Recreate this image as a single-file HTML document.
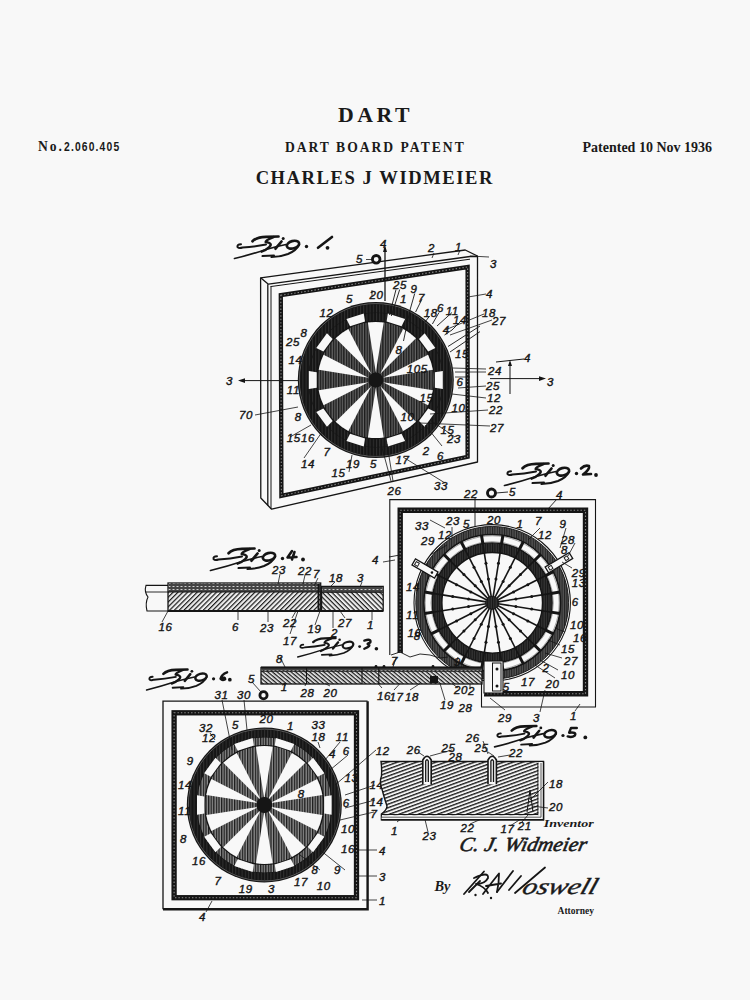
<!DOCTYPE html>
<html><head><meta charset="utf-8"><style>
html,body{margin:0;padding:0;background:#f8f8f8;overflow:hidden;}
svg{display:block;}
</style></head><body>
<svg width="750" height="1000" viewBox="0 0 750 1000">
<rect width="750" height="1000" fill="#f8f8f8"/>
<defs>
<pattern id="hatchV" width="2.6" height="10" patternUnits="userSpaceOnUse">
<rect width="2.6" height="10" fill="#1c1c1c"/><rect x="1.5" width="0.8" height="10" fill="#8a8a8a"/>
</pattern>
<pattern id="hatchR" width="2.4" height="2.4" patternUnits="userSpaceOnUse">
<rect width="2.4" height="2.4" fill="#222"/><rect x="1.3" width="0.7" height="2.4" fill="#808080"/>
</pattern>
<pattern id="hatchD" width="3" height="3" patternUnits="userSpaceOnUse" patternTransform="rotate(-30)">
<rect width="3" height="3" fill="#f0f0f0"/><rect y="0" width="3" height="1.1" fill="#222"/>
</pattern>
<pattern id="hatchD2" width="3.2" height="3.2" patternUnits="userSpaceOnUse" patternTransform="rotate(-20)">
<rect width="3.2" height="3.2" fill="#eeeeee"/><rect y="0" width="3.2" height="1.0" fill="#222"/>
</pattern>
<pattern id="hatchF" width="3.3" height="3.3" patternUnits="userSpaceOnUse" patternTransform="rotate(-20)">
<rect width="3.3" height="3.3" fill="#f4f4f4"/><rect y="0" width="3.3" height="1.35" fill="#1e1e1e"/>
</pattern>
<pattern id="hatchR2" width="2.4" height="2.4" patternUnits="userSpaceOnUse">
<rect width="2.4" height="2.4" fill="#151515"/><rect x="1.4" width="0.5" height="2.4" fill="#666"/>
</pattern>
<pattern id="hatch45a" width="3.4" height="3.4" patternUnits="userSpaceOnUse" patternTransform="rotate(-45)">
<rect width="3.4" height="3.4" fill="#eeeeee"/><rect y="0" width="3.4" height="1.2" fill="#1a1a1a"/>
</pattern>
<pattern id="hatch45b" width="3.4" height="3.4" patternUnits="userSpaceOnUse" patternTransform="rotate(45)">
<rect width="3.4" height="3.4" fill="#eeeeee"/><rect y="0" width="3.4" height="1.2" fill="#1a1a1a"/>
</pattern>
<pattern id="hatchV6" width="2.6" height="10" patternUnits="userSpaceOnUse">
<rect width="2.6" height="10" fill="#1c1c1c"/><rect x="1.4" width="1.0" height="10" fill="#b0b0b0"/>
</pattern>
<pattern id="bandH" width="3.2" height="20" patternUnits="userSpaceOnUse">
<rect width="3.2" height="20" fill="#151515"/><rect x="2" y="0" width="0.5" height="20" fill="#4a4a4a"/>
</pattern>
<pattern id="hatch3" width="3" height="3" patternUnits="userSpaceOnUse" patternTransform="rotate(40)">
<rect width="3" height="3" fill="#eeeeee"/><rect y="0" width="3" height="1.3" fill="#1a1a1a"/>
</pattern>
<pattern id="stip" width="4" height="3" patternUnits="userSpaceOnUse">
<rect width="4" height="3" fill="#444"/><rect x="0.5" y="1" width="2" height="1" fill="#d0d0d0"/>
</pattern>
</defs>
<g font-family="Liberation Serif" fill="#1a1a1a" font-weight="bold">
<text x="375.6" y="122.2" font-size="21.8" text-anchor="middle" letter-spacing="3.5">DART</text>
<text x="375.3" y="151.8" font-size="13.6" text-anchor="middle" letter-spacing="2">DART BOARD PATENT</text>
<text x="374.8" y="184.2" font-size="18.6" text-anchor="middle" letter-spacing="1.55">CHARLES J WIDMEIER</text>
<text x="38" y="151" font-size="13.6" textLength="24" lengthAdjust="spacing">No.</text>
<g transform="translate(64,151) scale(0.82,1)"><text x="0" y="0" font-family="Liberation Sans" font-size="12.6" letter-spacing="1.4">2.060.405</text></g>
<text x="582.5" y="151.5" font-size="14">Patented 10 Nov 1936</text>
</g>
<g fill="none" stroke="#151515" stroke-width="1.3" stroke-linejoin="round">
<path d="M260.6,277.8 L465.2,250 L477.5,256 L477.5,462 L271.6,509.2 L260.8,498 Z" fill="#f8f8f8"/>
<path d="M260.6,277.8 L268.4,284.2 L470,256.5 L477.5,256.5" />
<path d="M270.4,286.6 L470,259.2" stroke-width="1"/>
<path d="M267.8,284.2 L267.8,505.5" />
<path d="M271,286.6 L271,509" stroke-width="1"/>
</g>
<path d="M280.8,295.2 L467.6,267 L467.6,456.8 L281.4,495.8 Z" fill="none" stroke="#151515" stroke-width="4.3" stroke-linejoin="miter"/>
<path d="M280.8,295.2 L467.6,267 L467.6,456.8 L281.4,495.8 Z" fill="none" stroke="#8a8a8a" stroke-width="1.1" stroke-dasharray="1.4 2"/>
<circle cx="375.80" cy="380.00" r="78.00" fill="#151515"/>
<circle cx="375.80" cy="380.00" r="63.10" fill="none" stroke="url(#bandH)" stroke-width="9.00"/>
<circle cx="375.80" cy="380.00" r="58.60" fill="url(#hatchV)" stroke="#151515" stroke-width="1.2"/>
<circle cx="375.80" cy="380.00" r="67.60" fill="none" stroke="#151515" stroke-width="1.2"/>
<circle cx="375.80" cy="380.00" r="76.40" fill="none" stroke="#a0a0a0" stroke-width="0.5"/>
<circle cx="375.80" cy="380.00" r="71.60" fill="none" stroke="url(#bandH)" stroke-width="8.00"/>
<path d="M375.80,372.33 L367.91,322.54 A58.00,58.00 0 0 1 383.69,322.54 Z" fill="#f8f8f8"/>
<path d="M387.85,313.48 L405.15,319.10 L401.51,326.23 L386.60,321.39Z" fill="#f8f8f8"/>
<path d="M380.31,373.79 L403.20,328.88 A58.00,58.00 0 0 1 415.95,338.15 Z" fill="#f8f8f8"/>
<path d="M424.65,333.27 L435.34,347.98 L428.21,351.61 L418.99,338.93Z" fill="#f8f8f8"/>
<path d="M383.10,377.63 L428.01,354.74 A58.00,58.00 0 0 1 432.89,369.74 Z" fill="#f8f8f8"/>
<path d="M442.79,370.91 L442.79,389.09 L434.88,387.84 L434.88,372.16Z" fill="#f8f8f8"/>
<path d="M383.10,382.37 L432.89,390.26 A58.00,58.00 0 0 1 428.01,405.26 Z" fill="#f8f8f8"/>
<path d="M435.34,412.02 L424.65,426.73 L418.99,421.07 L428.21,408.39Z" fill="#f8f8f8"/>
<path d="M380.31,386.21 L415.95,421.85 A58.00,58.00 0 0 1 403.20,431.12 Z" fill="#f8f8f8"/>
<path d="M405.15,440.90 L387.85,446.52 L386.60,438.61 L401.51,433.77Z" fill="#f8f8f8"/>
<path d="M375.80,387.67 L383.69,437.46 A58.00,58.00 0 0 1 367.91,437.46 Z" fill="#f8f8f8"/>
<path d="M363.75,446.52 L346.45,440.90 L350.09,433.77 L365.00,438.61Z" fill="#f8f8f8"/>
<path d="M371.29,386.21 L348.40,431.12 A58.00,58.00 0 0 1 335.65,421.85 Z" fill="#f8f8f8"/>
<path d="M326.95,426.73 L316.26,412.02 L323.39,408.39 L332.61,421.07Z" fill="#f8f8f8"/>
<path d="M368.50,382.37 L323.59,405.26 A58.00,58.00 0 0 1 318.71,390.26 Z" fill="#f8f8f8"/>
<path d="M308.81,389.09 L308.81,370.91 L316.72,372.16 L316.72,387.84Z" fill="#f8f8f8"/>
<path d="M368.50,377.63 L318.71,369.74 A58.00,58.00 0 0 1 323.59,354.74 Z" fill="#f8f8f8"/>
<path d="M316.26,347.98 L326.95,333.27 L332.61,338.93 L323.39,351.61Z" fill="#f8f8f8"/>
<path d="M371.29,373.79 L335.65,338.15 A58.00,58.00 0 0 1 348.40,328.88 Z" fill="#f8f8f8"/>
<path d="M346.45,319.10 L363.75,313.48 L365.00,321.39 L350.09,326.23Z" fill="#f8f8f8"/>
<circle cx="375.80" cy="380.00" r="7.50" fill="#151515"/>
<path d="M240.00,380.60 L298.00,380.60" fill="none" stroke="#151515" stroke-width="1.0" />
<path d="M238,380.6 L245,378.3 L245,382.9Z" fill="#151515"/>
<path d="M490.00,378.60 L542.00,378.60" fill="none" stroke="#151515" stroke-width="1.0" />
<path d="M546,378.6 L539,376.3 L539,380.9Z" fill="#151515"/>
<path d="M510.00,363.00 L510.00,394.00" fill="none" stroke="#151515" stroke-width="1.0" />
<path d="M510,360 L508,366 L512,366Z" fill="#151515"/>
<path d="M496.00,362.00 L524.00,359.00" fill="none" stroke="#151515" stroke-width="1.0" />
<path d="M385.00,248.00 L385.00,301.00" fill="none" stroke="#151515" stroke-width="1.3" />
<path d="M385,245 L383,252 L387,252Z" fill="#151515"/>
<circle cx="376.2" cy="259.3" r="3.8" fill="#f8f8f8" stroke="#151515" stroke-width="2.8"/>
<path d="M470.00,256.00 L489.00,257.00" fill="none" stroke="#151515" stroke-width="0.8" />
<path d="M468.00,297.00 L486.00,294.00" fill="none" stroke="#151515" stroke-width="0.8" />
<path d="M445.00,330.00 L484.00,314.00" fill="none" stroke="#151515" stroke-width="0.8" />
<path d="M450.00,335.00 L492.00,320.00" fill="none" stroke="#151515" stroke-width="0.8" />
<path d="M452.00,368.00 L486.00,369.00" fill="none" stroke="#151515" stroke-width="0.8" />
<path d="M455.00,372.00 L486.00,372.00" fill="none" stroke="#151515" stroke-width="0.8" />
<path d="M455.00,377.00 L470.00,377.00" fill="none" stroke="#151515" stroke-width="0.8" />
<path d="M458.00,388.00 L486.00,386.00" fill="none" stroke="#151515" stroke-width="0.8" />
<path d="M452.00,394.00 L486.00,398.00" fill="none" stroke="#151515" stroke-width="0.8" />
<path d="M430.00,414.00 L488.00,410.00" fill="none" stroke="#151515" stroke-width="0.8" />
<path d="M420.00,423.00 L490.00,426.00" fill="none" stroke="#151515" stroke-width="0.8" />
<path d="M430.00,420.00 L455.00,437.00" fill="none" stroke="#151515" stroke-width="0.8" />
<path d="M425.00,425.00 L442.00,446.00" fill="none" stroke="#151515" stroke-width="0.8" />
<path d="M434.00,253.00 L432.00,258.00" fill="none" stroke="#151515" stroke-width="0.8" />
<path d="M460.00,250.00 L458.00,255.00" fill="none" stroke="#151515" stroke-width="0.8" />
<path d="M366.00,259.50 L372.00,259.50" fill="none" stroke="#151515" stroke-width="0.8" />
<path d="M298.00,407.00 L255.00,415.00" fill="none" stroke="#151515" stroke-width="0.8" />
<path d="M311.00,425.00 L290.00,437.00" fill="none" stroke="#151515" stroke-width="0.8" />
<path d="M322.00,432.00 L304.00,458.00" fill="none" stroke="#151515" stroke-width="0.8" />
<path d="M352.00,455.00 L349.00,472.00" fill="none" stroke="#151515" stroke-width="0.8" />
<path d="M391.00,481.00 L381.00,444.00" fill="none" stroke="#151515" stroke-width="0.8" />
<path d="M393.00,481.00 L387.00,444.00" fill="none" stroke="#151515" stroke-width="0.8" />
<path d="M403.00,457.00 L445.00,483.00" fill="none" stroke="#151515" stroke-width="0.8" />
<path d="M372.00,290.00 L372.00,296.00" fill="none" stroke="#151515" stroke-width="0.8" />
<path d="M396.00,289.50 L389.50,315.00" fill="none" stroke="#151515" stroke-width="0.9" />
<path d="M399.70,289.50 L391.30,316.00" fill="none" stroke="#151515" stroke-width="0.9" />
<path d="M414.70,293.50 L410.00,310.00 L403.50,341.00" fill="none" stroke="#151515" stroke-width="0.9" />
<path d="M422.00,299.00 L415.60,312.00" fill="none" stroke="#151515" stroke-width="0.9" />
<path d="M429.60,316.00 L425.00,322.00" fill="none" stroke="#151515" stroke-width="0.9" />
<path d="M439.00,312.50 L432.40,324.00" fill="none" stroke="#151515" stroke-width="0.9" />
<path d="M452.00,312.50 L437.00,326.00" fill="none" stroke="#151515" stroke-width="0.9" />
<path d="M461.00,321.00 L452.00,330.00 L444.50,335.00" fill="none" stroke="#151515" stroke-width="0.9" />
<path d="M480.00,326.00 L448.00,346.50" fill="none" stroke="#151515" stroke-width="0.9" />
<path d="M480.00,331.60 L450.00,352.00" fill="none" stroke="#151515" stroke-width="0.9" />
<g font-family="Liberation Sans" font-style="italic" fill="#151515">
<text x="380" y="247.6" font-size="11.5" text-anchor="start" letter-spacing="0.6" stroke="#151515" stroke-width="0.4">4</text>
<text x="356" y="263" font-size="11.5" text-anchor="start" letter-spacing="0.6" stroke="#151515" stroke-width="0.4">5</text>
<text x="428" y="252" font-size="11.5" text-anchor="start" letter-spacing="0.6" stroke="#151515" stroke-width="0.4">2</text>
<text x="455" y="250.5" font-size="11.5" text-anchor="start" letter-spacing="0.6" stroke="#151515" stroke-width="0.4">1</text>
<text x="490" y="268" font-size="11.5" text-anchor="start" letter-spacing="0.6" stroke="#151515" stroke-width="0.4">3</text>
<text x="486" y="298" font-size="11.5" text-anchor="start" letter-spacing="0.6" stroke="#151515" stroke-width="0.4">4</text>
<text x="369.5" y="299" font-size="11.5" text-anchor="start" letter-spacing="0.6" stroke="#151515" stroke-width="0.4">20</text>
<text x="346" y="303" font-size="11.5" text-anchor="start" letter-spacing="0.6" stroke="#151515" stroke-width="0.4">5</text>
<text x="319.6" y="316.5" font-size="11.5" text-anchor="start" letter-spacing="0.6" stroke="#151515" stroke-width="0.4">12</text>
<text x="393" y="288.7" font-size="11.5" text-anchor="start" letter-spacing="0.6" stroke="#151515" stroke-width="0.4">25</text>
<text x="410.5" y="293" font-size="11.5" text-anchor="start" letter-spacing="0.6" stroke="#151515" stroke-width="0.4">9</text>
<text x="400" y="303" font-size="11.5" text-anchor="start" letter-spacing="0.6" stroke="#151515" stroke-width="0.4">1</text>
<text x="418" y="302" font-size="11.5" text-anchor="start" letter-spacing="0.6" stroke="#151515" stroke-width="0.4">7</text>
<text x="423.7" y="316.5" font-size="11.5" text-anchor="start" letter-spacing="0.6" stroke="#151515" stroke-width="0.4">18</text>
<text x="437" y="312" font-size="11.5" text-anchor="start" letter-spacing="0.6" stroke="#151515" stroke-width="0.4">6</text>
<text x="445.7" y="315" font-size="11.5" text-anchor="start" letter-spacing="0.6" stroke="#151515" stroke-width="0.4">11</text>
<text x="453" y="324" font-size="11.5" text-anchor="start" letter-spacing="0.6" stroke="#151515" stroke-width="0.4">14</text>
<text x="442.8" y="334" font-size="11.5" text-anchor="start" letter-spacing="0.6" stroke="#151515" stroke-width="0.4">4</text>
<text x="286" y="346" font-size="11.5" text-anchor="start" letter-spacing="0.6" stroke="#151515" stroke-width="0.4">25</text>
<text x="300.5" y="337" font-size="11.5" text-anchor="start" letter-spacing="0.6" stroke="#151515" stroke-width="0.4">8</text>
<text x="288.4" y="363.6" font-size="11.5" text-anchor="start" letter-spacing="0.6" stroke="#151515" stroke-width="0.4">14</text>
<text x="286.8" y="394" font-size="11.5" text-anchor="start" letter-spacing="0.6" stroke="#151515" stroke-width="0.4">11</text>
<text x="239" y="419" font-size="11.5" text-anchor="start" letter-spacing="0.6" stroke="#151515" stroke-width="0.4">70</text>
<text x="294.8" y="421" font-size="11.5" text-anchor="start" letter-spacing="0.6" stroke="#151515" stroke-width="0.4">8</text>
<text x="286.8" y="442" font-size="11.5" text-anchor="start" letter-spacing="0.6" stroke="#151515" stroke-width="0.4">15</text>
<text x="301" y="442" font-size="11.5" text-anchor="start" letter-spacing="0.6" stroke="#151515" stroke-width="0.4">16</text>
<text x="323.6" y="456.4" font-size="11.5" text-anchor="start" letter-spacing="0.6" stroke="#151515" stroke-width="0.4">7</text>
<text x="301" y="467.6" font-size="11.5" text-anchor="start" letter-spacing="0.6" stroke="#151515" stroke-width="0.4">14</text>
<text x="346" y="467.6" font-size="11.5" text-anchor="start" letter-spacing="0.6" stroke="#151515" stroke-width="0.4">19</text>
<text x="331.6" y="477" font-size="11.5" text-anchor="start" letter-spacing="0.6" stroke="#151515" stroke-width="0.4">15</text>
<text x="370" y="467.6" font-size="11.5" text-anchor="start" letter-spacing="0.6" stroke="#151515" stroke-width="0.4">5</text>
<text x="395.6" y="464.4" font-size="11.5" text-anchor="start" letter-spacing="0.6" stroke="#151515" stroke-width="0.4">17</text>
<text x="422.8" y="454.8" font-size="11.5" text-anchor="start" letter-spacing="0.6" stroke="#151515" stroke-width="0.4">2</text>
<text x="437" y="459.6" font-size="11.5" text-anchor="start" letter-spacing="0.6" stroke="#151515" stroke-width="0.4">6</text>
<text x="440.4" y="434" font-size="11.5" text-anchor="start" letter-spacing="0.6" stroke="#151515" stroke-width="0.4">15</text>
<text x="447" y="443" font-size="11.5" text-anchor="start" letter-spacing="0.6" stroke="#151515" stroke-width="0.4">23</text>
<text x="451.6" y="411.6" font-size="11.5" text-anchor="start" letter-spacing="0.6" stroke="#151515" stroke-width="0.4">10</text>
<text x="455" y="358" font-size="11.5" text-anchor="start" letter-spacing="0.6" stroke="#151515" stroke-width="0.4">15</text>
<text x="456.4" y="386" font-size="11.5" text-anchor="start" letter-spacing="0.6" stroke="#151515" stroke-width="0.4">6</text>
<text x="387.6" y="494.8" font-size="11.5" text-anchor="start" letter-spacing="0.6" stroke="#151515" stroke-width="0.4">26</text>
<text x="434" y="490" font-size="11.5" text-anchor="start" letter-spacing="0.6" stroke="#151515" stroke-width="0.4">33</text>
<text x="400.4" y="421" font-size="11.5" text-anchor="start" letter-spacing="0.6" stroke="#151515" stroke-width="0.4">10</text>
<text x="419.6" y="402" font-size="11.5" text-anchor="start" letter-spacing="0.6" stroke="#151515" stroke-width="0.4">15</text>
<text x="406.8" y="373" font-size="11.5" text-anchor="start" letter-spacing="0.6" stroke="#151515" stroke-width="0.4">105</text>
<text x="395.6" y="354" font-size="11.5" text-anchor="start" letter-spacing="0.6" stroke="#151515" stroke-width="0.4">8</text>
<text x="482" y="317" font-size="11.5" text-anchor="start" letter-spacing="0.6" stroke="#151515" stroke-width="0.4">18</text>
<text x="492" y="325" font-size="11.5" text-anchor="start" letter-spacing="0.6" stroke="#151515" stroke-width="0.4">27</text>
<text x="488" y="375" font-size="11.5" text-anchor="start" letter-spacing="0.6" stroke="#151515" stroke-width="0.4">24</text>
<text x="486" y="390" font-size="11.5" text-anchor="start" letter-spacing="0.6" stroke="#151515" stroke-width="0.4">25</text>
<text x="487" y="402" font-size="11.5" text-anchor="start" letter-spacing="0.6" stroke="#151515" stroke-width="0.4">12</text>
<text x="489" y="414" font-size="11.5" text-anchor="start" letter-spacing="0.6" stroke="#151515" stroke-width="0.4">22</text>
<text x="490" y="432" font-size="11.5" text-anchor="start" letter-spacing="0.6" stroke="#151515" stroke-width="0.4">27</text>
<text x="524" y="362" font-size="11.5" text-anchor="start" letter-spacing="0.6" stroke="#151515" stroke-width="0.4">4</text>
<text x="547" y="386" font-size="11.5" text-anchor="start" letter-spacing="0.6" stroke="#151515" stroke-width="0.4">3</text>
<text x="226" y="385" font-size="11.5" text-anchor="start" letter-spacing="0.6" stroke="#151515" stroke-width="0.4">3</text>
</g>
<g fill="none" stroke="#151515" stroke-width="1.1">
<path d="M389.8,655 L389.8,499.6 L595.5,499.6 L595.5,707 L481.5,707 L481.5,667"/>
</g>
<path d="M400.2,653 L400.2,510.3 L585.5,510.3 L585.5,693.8 L484,693.8" fill="none" stroke="#151515" stroke-width="5.4"/>
<path d="M400.2,653 L400.2,510.3 L585.5,510.3 L585.5,693.8 L484,693.8" fill="none" stroke="#8a8a8a" stroke-width="1.1" stroke-dasharray="1.4 2"/>
<circle cx="492.20" cy="602.80" r="78.20" fill="#f8f8f8" stroke="#151515" stroke-width="1.1"/>
<circle cx="492.20" cy="602.80" r="72.35" fill="none" stroke="url(#hatchR)" stroke-width="8.1"/>
<circle cx="492.20" cy="602.80" r="76.40" fill="none" stroke="#151515" stroke-width="0.9"/>
<circle cx="492.20" cy="602.80" r="68.30" fill="none" stroke="#151515" stroke-width="1.6"/>
<circle cx="492.20" cy="602.80" r="55.10" fill="none" stroke="url(#hatchR2)" stroke-width="9.6"/>
<circle cx="492.20" cy="602.80" r="59.90" fill="none" stroke="#151515" stroke-width="1.4"/>
<circle cx="492.20" cy="602.80" r="50.30" fill="none" stroke="#151515" stroke-width="1.4"/>
<circle cx="492.20" cy="602.80" r="67" fill="none" stroke="#555" stroke-width="0.5"/>
<circle cx="492.20" cy="602.80" r="61.2" fill="none" stroke="#555" stroke-width="0.5"/>
<path d="M493.14,596.87 L501.59,543.54" stroke="#151515" stroke-width="1.6"/>
<path d="M501.51,544.03 L502.92,535.14" stroke="#151515" stroke-width="3"/>
<circle cx="495.95" cy="579.10" r="1.5" fill="#151515"/>
<circle cx="498.46" cy="563.29" r="1.5" fill="#151515"/>
<path d="M494.92,597.45 L519.44,549.34" stroke="#151515" stroke-width="1.6"/>
<path d="M519.21,549.79 L523.30,541.77" stroke="#151515" stroke-width="3"/>
<circle cx="503.10" cy="581.42" r="1.5" fill="#151515"/>
<circle cx="510.36" cy="567.16" r="1.5" fill="#151515"/>
<path d="M496.44,598.56 L534.63,560.37" stroke="#151515" stroke-width="1.6"/>
<path d="M534.27,560.73 L540.64,554.36" stroke="#151515" stroke-width="3"/>
<circle cx="509.17" cy="585.83" r="1.5" fill="#151515"/>
<circle cx="520.48" cy="574.52" r="1.5" fill="#151515"/>
<path d="M497.55,600.08 L545.66,575.56" stroke="#151515" stroke-width="1.6"/>
<path d="M545.21,575.79 L553.23,571.70" stroke="#151515" stroke-width="3"/>
<circle cx="513.58" cy="591.90" r="1.5" fill="#151515"/>
<circle cx="527.84" cy="584.64" r="1.5" fill="#151515"/>
<path d="M498.13,601.86 L551.46,593.41" stroke="#151515" stroke-width="1.6"/>
<path d="M550.97,593.49 L559.86,592.08" stroke="#151515" stroke-width="3"/>
<circle cx="515.90" cy="599.05" r="1.5" fill="#151515"/>
<circle cx="531.71" cy="596.54" r="1.5" fill="#151515"/>
<path d="M498.13,603.74 L551.46,612.19" stroke="#151515" stroke-width="1.6"/>
<path d="M550.97,612.11 L559.86,613.52" stroke="#151515" stroke-width="3"/>
<circle cx="515.90" cy="606.55" r="1.5" fill="#151515"/>
<circle cx="531.71" cy="609.06" r="1.5" fill="#151515"/>
<path d="M497.55,605.52 L545.66,630.04" stroke="#151515" stroke-width="1.6"/>
<path d="M545.21,629.81 L553.23,633.90" stroke="#151515" stroke-width="3"/>
<circle cx="513.58" cy="613.70" r="1.5" fill="#151515"/>
<circle cx="527.84" cy="620.96" r="1.5" fill="#151515"/>
<path d="M496.44,607.04 L534.63,645.23" stroke="#151515" stroke-width="1.6"/>
<path d="M534.27,644.87 L540.64,651.24" stroke="#151515" stroke-width="3"/>
<circle cx="509.17" cy="619.77" r="1.5" fill="#151515"/>
<circle cx="520.48" cy="631.08" r="1.5" fill="#151515"/>
<path d="M494.92,608.15 L519.44,656.26" stroke="#151515" stroke-width="1.6"/>
<path d="M519.21,655.81 L523.30,663.83" stroke="#151515" stroke-width="3"/>
<circle cx="503.10" cy="624.18" r="1.5" fill="#151515"/>
<circle cx="510.36" cy="638.44" r="1.5" fill="#151515"/>
<path d="M493.14,608.73 L501.59,662.06" stroke="#151515" stroke-width="1.6"/>
<path d="M501.51,661.57 L502.92,670.46" stroke="#151515" stroke-width="3"/>
<circle cx="495.95" cy="626.50" r="1.5" fill="#151515"/>
<circle cx="498.46" cy="642.31" r="1.5" fill="#151515"/>
<path d="M491.26,608.73 L482.81,662.06" stroke="#151515" stroke-width="1.6"/>
<path d="M482.89,661.57 L481.48,670.46" stroke="#151515" stroke-width="3"/>
<circle cx="488.45" cy="626.50" r="1.5" fill="#151515"/>
<circle cx="485.94" cy="642.31" r="1.5" fill="#151515"/>
<path d="M489.48,608.15 L464.96,656.26" stroke="#151515" stroke-width="1.6"/>
<path d="M465.19,655.81 L461.10,663.83" stroke="#151515" stroke-width="3"/>
<circle cx="481.30" cy="624.18" r="1.5" fill="#151515"/>
<circle cx="474.04" cy="638.44" r="1.5" fill="#151515"/>
<path d="M487.96,607.04 L449.77,645.23" stroke="#151515" stroke-width="1.6"/>
<path d="M450.13,644.87 L443.76,651.24" stroke="#151515" stroke-width="3"/>
<circle cx="475.23" cy="619.77" r="1.5" fill="#151515"/>
<circle cx="463.92" cy="631.08" r="1.5" fill="#151515"/>
<path d="M486.85,605.52 L438.74,630.04" stroke="#151515" stroke-width="1.6"/>
<path d="M439.19,629.81 L431.17,633.90" stroke="#151515" stroke-width="3"/>
<circle cx="470.82" cy="613.70" r="1.5" fill="#151515"/>
<circle cx="456.56" cy="620.96" r="1.5" fill="#151515"/>
<path d="M486.27,603.74 L432.94,612.19" stroke="#151515" stroke-width="1.6"/>
<path d="M433.43,612.11 L424.54,613.52" stroke="#151515" stroke-width="3"/>
<circle cx="468.50" cy="606.55" r="1.5" fill="#151515"/>
<circle cx="452.69" cy="609.06" r="1.5" fill="#151515"/>
<path d="M486.27,601.86 L432.94,593.41" stroke="#151515" stroke-width="1.6"/>
<path d="M433.43,593.49 L424.54,592.08" stroke="#151515" stroke-width="3"/>
<circle cx="468.50" cy="599.05" r="1.5" fill="#151515"/>
<circle cx="452.69" cy="596.54" r="1.5" fill="#151515"/>
<path d="M486.85,600.08 L438.74,575.56" stroke="#151515" stroke-width="1.6"/>
<path d="M439.19,575.79 L431.17,571.70" stroke="#151515" stroke-width="3"/>
<circle cx="470.82" cy="591.90" r="1.5" fill="#151515"/>
<circle cx="456.56" cy="584.64" r="1.5" fill="#151515"/>
<path d="M487.96,598.56 L449.77,560.37" stroke="#151515" stroke-width="1.6"/>
<path d="M450.13,560.73 L443.76,554.36" stroke="#151515" stroke-width="3"/>
<circle cx="475.23" cy="585.83" r="1.5" fill="#151515"/>
<circle cx="463.92" cy="574.52" r="1.5" fill="#151515"/>
<path d="M489.48,597.45 L464.96,549.34" stroke="#151515" stroke-width="1.6"/>
<path d="M465.19,549.79 L461.10,541.77" stroke="#151515" stroke-width="3"/>
<circle cx="481.30" cy="581.42" r="1.5" fill="#151515"/>
<circle cx="474.04" cy="567.16" r="1.5" fill="#151515"/>
<path d="M491.26,596.87 L482.81,543.54" stroke="#151515" stroke-width="1.6"/>
<path d="M482.89,544.03 L481.48,535.14" stroke="#151515" stroke-width="3"/>
<circle cx="488.45" cy="579.10" r="1.5" fill="#151515"/>
<circle cx="485.94" cy="563.29" r="1.5" fill="#151515"/>
<circle cx="492.20" cy="602.80" r="6.5" fill="url(#hatchR2)" stroke="#151515" stroke-width="1"/>
<path d="M391.00,655.00 L400.00,652.00 L410.00,657.00 L420.00,654.00 L430.00,655.00 L440.00,658.00 L448.00,657.00" fill="none" stroke="#151515" stroke-width="0.9" />
<path d="M163,909.2 L163,701.2 L367.6,701.2" fill="none" stroke="#151515" stroke-width="1.3"/>
<path d="M367.6,701.2 L367.6,909.2 L163,909.2" fill="none" stroke="#151515" stroke-width="2.4"/>
<rect x="174.1" y="712.8" width="182.4" height="184.9" fill="none" stroke="#151515" stroke-width="5.3"/>
<rect x="174.1" y="712.8" width="182.4" height="184.9" fill="none" stroke="#8a8a8a" stroke-width="1.1" stroke-dasharray="1.4 2"/>
<circle cx="264.30" cy="805.00" r="77.50" fill="#151515"/>
<circle cx="264.30" cy="805.00" r="63.75" fill="none" stroke="url(#hatchV6)" stroke-width="8.50"/>
<circle cx="264.30" cy="805.00" r="59.50" fill="url(#hatchV6)" stroke="#151515" stroke-width="1.2"/>
<circle cx="264.30" cy="805.00" r="68.00" fill="none" stroke="#151515" stroke-width="1.2"/>
<circle cx="264.30" cy="805.00" r="75.90" fill="none" stroke="#a0a0a0" stroke-width="0.5"/>
<circle cx="264.30" cy="805.00" r="71.55" fill="none" stroke="url(#bandH)" stroke-width="7.10"/>
<path d="M264.30,799.25 L255.98,746.69 A58.90,58.90 0 0 1 272.62,746.69 Z" fill="#f8f8f8"/>
<path d="M275.92,738.00 L294.28,743.96 L290.87,750.65 L274.75,745.41Z" fill="#f8f8f8"/>
<path d="M267.68,800.35 L291.84,752.93 A58.90,58.90 0 0 1 305.31,762.72 Z" fill="#f8f8f8"/>
<path d="M313.09,757.63 L324.43,773.24 L317.74,776.65 L307.78,762.93Z" fill="#f8f8f8"/>
<path d="M269.77,803.22 L317.18,779.06 A58.90,58.90 0 0 1 322.33,794.90 Z" fill="#f8f8f8"/>
<path d="M331.61,795.35 L331.61,814.65 L324.20,813.48 L324.20,796.52Z" fill="#f8f8f8"/>
<path d="M269.77,806.78 L322.33,815.10 A58.90,58.90 0 0 1 317.18,830.94 Z" fill="#f8f8f8"/>
<path d="M324.43,836.76 L313.09,852.37 L307.78,847.07 L317.74,833.35Z" fill="#f8f8f8"/>
<path d="M267.68,809.65 L305.31,847.28 A58.90,58.90 0 0 1 291.84,857.07 Z" fill="#f8f8f8"/>
<path d="M294.28,866.04 L275.92,872.00 L274.75,864.59 L290.87,859.35Z" fill="#f8f8f8"/>
<path d="M264.30,810.75 L272.62,863.31 A58.90,58.90 0 0 1 255.98,863.31 Z" fill="#f8f8f8"/>
<path d="M252.68,872.00 L234.32,866.04 L237.73,859.35 L253.85,864.59Z" fill="#f8f8f8"/>
<path d="M260.92,809.65 L236.76,857.07 A58.90,58.90 0 0 1 223.29,847.28 Z" fill="#f8f8f8"/>
<path d="M215.51,852.37 L204.17,836.76 L210.86,833.35 L220.82,847.07Z" fill="#f8f8f8"/>
<path d="M258.83,806.78 L211.42,830.94 A58.90,58.90 0 0 1 206.27,815.10 Z" fill="#f8f8f8"/>
<path d="M196.99,814.65 L196.99,795.35 L204.40,796.52 L204.40,813.48Z" fill="#f8f8f8"/>
<path d="M258.83,803.22 L206.27,794.90 A58.90,58.90 0 0 1 211.42,779.06 Z" fill="#f8f8f8"/>
<path d="M204.17,773.24 L215.51,757.63 L220.82,762.93 L210.86,776.65Z" fill="#f8f8f8"/>
<path d="M260.92,800.35 L223.29,762.72 A58.90,58.90 0 0 1 236.76,752.93 Z" fill="#f8f8f8"/>
<path d="M234.32,743.96 L252.68,738.00 L253.85,745.41 L237.73,750.65Z" fill="#f8f8f8"/>
<circle cx="264.30" cy="805.00" r="8.00" fill="#151515"/>
<g transform="translate(236,236.5) scale(1.0)" fill="none" stroke="#151515" stroke-linecap="round" stroke-linejoin="round"><path d="M5,7.8 Q0.8,8 1.6,10.6 Q3,12.2 6.5,11 Q18,10.3 30,8" stroke-width="2"/><path d="M16.5,4.8 Q20.5,0.6 30,0.4 L42.5,0" stroke-width="2.7"/><path d="M37.5,0.6 Q29,4 29.6,5.6 Q37.5,6.6 33.2,10.6 Q30,13.6 25.5,15.2" stroke-width="2.4"/><path d="M-1.5,22 Q15,18 30,13 Q40,10 50,8" stroke-width="1.7"/><path d="M26.5,19.6 L38,19" stroke-width="2"/><path d="M39.5,12.2 L45.5,5" stroke-width="2.7"/><circle cx="47.2" cy="2" r="1.5" fill="#151515" stroke="none"/><ellipse cx="57" cy="8.2" rx="6.3" ry="3.7" transform="rotate(-15 57 8.2)" stroke-width="2.6"/><path d="M63.2,8 Q60.5,14 52,17.5 Q45,20.2 35.5,20.6" stroke-width="2"/><circle cx="70.5" cy="10" r="1.7" fill="#151515" stroke="none"/><path d="M82,11.3 L96,0.5" stroke-width="2.6"/><circle cx="91.5" cy="11.3" r="1.9" fill="#151515" stroke="none"/></g>
<g transform="translate(506,463.5) scale(1.0)" fill="none" stroke="#151515" stroke-linecap="round" stroke-linejoin="round"><path d="M5,7.8 Q0.8,8 1.6,10.6 Q3,12.2 6.5,11 Q18,10.3 30,8" stroke-width="2"/><path d="M16.5,4.8 Q20.5,0.6 30,0.4 L42.5,0" stroke-width="2.7"/><path d="M37.5,0.6 Q29,4 29.6,5.6 Q37.5,6.6 33.2,10.6 Q30,13.6 25.5,15.2" stroke-width="2.4"/><path d="M-1.5,22 Q15,18 30,13 Q40,10 50,8" stroke-width="1.7"/><path d="M26.5,19.6 L38,19" stroke-width="2"/><path d="M39.5,12.2 L45.5,5" stroke-width="2.7"/><circle cx="47.2" cy="2" r="1.5" fill="#151515" stroke="none"/><ellipse cx="57" cy="8.2" rx="6.3" ry="3.7" transform="rotate(-15 57 8.2)" stroke-width="2.6"/><path d="M63.2,8 Q60.5,14 52,17.5 Q45,20.2 35.5,20.6" stroke-width="2"/><circle cx="70.5" cy="10" r="1.7" fill="#151515" stroke="none"/><path d="M75,5 Q79,1 83,2.5 Q84,6 77,11 L85,10.5" stroke-width="2.6"/><circle cx="90" cy="11.5" r="1.9" fill="#151515" stroke="none"/></g>
<g transform="translate(212,548.5) scale(1.0)" fill="none" stroke="#151515" stroke-linecap="round" stroke-linejoin="round"><path d="M5,7.8 Q0.8,8 1.6,10.6 Q3,12.2 6.5,11 Q18,10.3 30,8" stroke-width="2"/><path d="M16.5,4.8 Q20.5,0.6 30,0.4 L42.5,0" stroke-width="2.7"/><path d="M37.5,0.6 Q29,4 29.6,5.6 Q37.5,6.6 33.2,10.6 Q30,13.6 25.5,15.2" stroke-width="2.4"/><path d="M-1.5,22 Q15,18 30,13 Q40,10 50,8" stroke-width="1.7"/><path d="M26.5,19.6 L38,19" stroke-width="2"/><path d="M39.5,12.2 L45.5,5" stroke-width="2.7"/><circle cx="47.2" cy="2" r="1.5" fill="#151515" stroke="none"/><ellipse cx="57" cy="8.2" rx="6.3" ry="3.7" transform="rotate(-15 57 8.2)" stroke-width="2.6"/><path d="M63.2,8 Q60.5,14 52,17.5 Q45,20.2 35.5,20.6" stroke-width="2"/><circle cx="70.5" cy="10" r="1.7" fill="#151515" stroke="none"/><path d="M80,2.5 L75.5,9 L84.5,8.5 M82.5,3.5 L80,11" stroke-width="2.5"/><circle cx="91" cy="11" r="1.9" fill="#151515" stroke="none"/></g>
<g transform="translate(299,638) scale(0.86)" fill="none" stroke="#151515" stroke-linecap="round" stroke-linejoin="round"><path d="M5,7.8 Q0.8,8 1.6,10.6 Q3,12.2 6.5,11 Q18,10.3 30,8" stroke-width="2"/><path d="M16.5,4.8 Q20.5,0.6 30,0.4 L42.5,0" stroke-width="2.7"/><path d="M37.5,0.6 Q29,4 29.6,5.6 Q37.5,6.6 33.2,10.6 Q30,13.6 25.5,15.2" stroke-width="2.4"/><path d="M-1.5,22 Q15,18 30,13 Q40,10 50,8" stroke-width="1.7"/><path d="M26.5,19.6 L38,19" stroke-width="2"/><path d="M39.5,12.2 L45.5,5" stroke-width="2.7"/><circle cx="47.2" cy="2" r="1.5" fill="#151515" stroke="none"/><ellipse cx="57" cy="8.2" rx="6.3" ry="3.7" transform="rotate(-15 57 8.2)" stroke-width="2.6"/><path d="M63.2,8 Q60.5,14 52,17.5 Q45,20.2 35.5,20.6" stroke-width="2"/><circle cx="70.5" cy="10" r="1.7" fill="#151515" stroke="none"/><path d="M76,3 Q84,0.5 83,5 Q79,7 80,7 Q85,9 76,12.5" stroke-width="2.8"/><circle cx="90" cy="12.5" r="2.1" fill="#151515" stroke="none"/></g>
<g transform="translate(496,726) scale(0.95)" fill="none" stroke="#151515" stroke-linecap="round" stroke-linejoin="round"><path d="M5,7.8 Q0.8,8 1.6,10.6 Q3,12.2 6.5,11 Q18,10.3 30,8" stroke-width="2"/><path d="M16.5,4.8 Q20.5,0.6 30,0.4 L42.5,0" stroke-width="2.7"/><path d="M37.5,0.6 Q29,4 29.6,5.6 Q37.5,6.6 33.2,10.6 Q30,13.6 25.5,15.2" stroke-width="2.4"/><path d="M-1.5,22 Q15,18 30,13 Q40,10 50,8" stroke-width="1.7"/><path d="M26.5,19.6 L38,19" stroke-width="2"/><path d="M39.5,12.2 L45.5,5" stroke-width="2.7"/><circle cx="47.2" cy="2" r="1.5" fill="#151515" stroke="none"/><ellipse cx="57" cy="8.2" rx="6.3" ry="3.7" transform="rotate(-15 57 8.2)" stroke-width="2.6"/><path d="M63.2,8 Q60.5,14 52,17.5 Q45,20.2 35.5,20.6" stroke-width="2"/><circle cx="70.5" cy="10" r="1.7" fill="#151515" stroke="none"/><path d="M85,2 L79,2 L77,7 Q85,6 83,10 Q80,12.5 75.5,11" stroke-width="2.6"/><circle cx="94" cy="12" r="2" fill="#151515" stroke="none"/></g>
<g transform="translate(148,669.5) scale(0.93)" fill="none" stroke="#151515" stroke-linecap="round" stroke-linejoin="round"><path d="M5,7.8 Q0.8,8 1.6,10.6 Q3,12.2 6.5,11 Q18,10.3 30,8" stroke-width="2"/><path d="M16.5,4.8 Q20.5,0.6 30,0.4 L42.5,0" stroke-width="2.7"/><path d="M37.5,0.6 Q29,4 29.6,5.6 Q37.5,6.6 33.2,10.6 Q30,13.6 25.5,15.2" stroke-width="2.4"/><path d="M-1.5,22 Q15,18 30,13 Q40,10 50,8" stroke-width="1.7"/><path d="M26.5,19.6 L38,19" stroke-width="2"/><path d="M39.5,12.2 L45.5,5" stroke-width="2.7"/><circle cx="47.2" cy="2" r="1.5" fill="#151515" stroke="none"/><ellipse cx="57" cy="8.2" rx="6.3" ry="3.7" transform="rotate(-15 57 8.2)" stroke-width="2.6"/><path d="M63.2,8 Q60.5,14 52,17.5 Q45,20.2 35.5,20.6" stroke-width="2"/><circle cx="70.5" cy="10" r="1.7" fill="#151515" stroke="none"/><path d="M85,3 Q79,5 78,10 Q80,12.5 83,10.5 Q83,8 79,9" stroke-width="2.6"/><circle cx="88" cy="11" r="2" fill="#151515" stroke="none"/></g>
<path d="M168,585.4 L146,585.4 Q144,592 148,597 Q145,603 147,611 L168,611" fill="#f8f8f8" stroke="#151515" stroke-width="1.1"/>
<path d="M146.00,592.00 L168.00,592.00" fill="none" stroke="#151515" stroke-width="0.9" />
<rect x="168" y="583" width="152.7" height="28" fill="url(#hatch45a)" stroke="#151515" stroke-width="1.3"/>
<rect x="168.6" y="583.6" width="151.5" height="8.4" fill="url(#stip)"/>
<path d="M168.00,592.00 L321.00,592.00" fill="none" stroke="#151515" stroke-width="1.0" />
<rect x="321.6" y="586.4" width="61.6" height="24.6" fill="url(#hatch45b)" stroke="#151515" stroke-width="1.3"/>
<rect x="322.2" y="587" width="60.4" height="5.3" fill="url(#stip)"/>
<path d="M321.60,592.30 L383.20,592.30" fill="none" stroke="#151515" stroke-width="1.0" />
<path d="M318.50,584.00 L318.50,611.00" fill="none" stroke="#151515" stroke-width="2.0" />
<path d="M168.00,611.00 L383.00,611.00" fill="none" stroke="#151515" stroke-width="1.8" />
<rect x="261" y="667.5" width="221" height="16.5" fill="url(#hatch3)" stroke="#151515" stroke-width="1.3"/>
<rect x="261.6" y="668" width="219.8" height="3.2" fill="url(#stip)"/>
<path d="M261.00,671.20 L482.00,671.20" fill="none" stroke="#151515" stroke-width="1.0" />
<path d="M261.00,667.50 L482.00,667.50" fill="none" stroke="#151515" stroke-width="1.8" />
<path d="M306.50,667.50 L306.50,684.00" fill="none" stroke="#151515" stroke-width="1.1" />
<path d="M362.00,667.50 L362.00,684.00" fill="none" stroke="#151515" stroke-width="1.1" />
<path d="M378.80,667.50 L378.80,684.00" fill="none" stroke="#151515" stroke-width="1.1" />
<path d="M430,676 L438,676 L438,683 L430,683Z" fill="#151515"/>
<circle cx="376" cy="666.5" r="1.4" fill="#151515"/><circle cx="384" cy="666.5" r="1.4" fill="#151515"/><circle cx="433" cy="666.5" r="1.4" fill="#151515"/>
<circle cx="491.5" cy="493" r="4" fill="#f8f8f8" stroke="#151515" stroke-width="2.9"/>
<path d="M496.00,493.00 L508.00,492.00" fill="none" stroke="#151515" stroke-width="0.9" />
<path d="M475.00,497.50 L475.00,527.00" fill="none" stroke="#151515" stroke-width="0.9" />
<path d="M548.00,509.00 L557.00,499.00" fill="none" stroke="#151515" stroke-width="0.9" />
<path d="M389.00,557.00 L400.00,555.00" fill="none" stroke="#151515" stroke-width="0.9" />
<g transform="rotate(30 425 568.5)"><rect x="412" y="565" width="26" height="7" fill="#f8f8f8" stroke="#151515" stroke-width="1.3"/><rect x="414" y="566.8" width="3.5" height="3.5" fill="none" stroke="#151515" stroke-width="0.9"/><circle cx="433" cy="568.5" r="1.3" fill="#151515"/></g>
<g transform="rotate(-31 558.5 563)"><rect x="545" y="559.5" width="28" height="7" fill="#f8f8f8" stroke="#151515" stroke-width="1.3"/><rect x="547.5" y="561.3" width="3.5" height="3.5" fill="none" stroke="#151515" stroke-width="0.9"/><rect x="566" y="561.3" width="3.5" height="3.5" fill="none" stroke="#151515" stroke-width="0.9"/></g>
<rect x="484" y="661" width="19" height="32" fill="#f8f8f8" stroke="#151515" stroke-width="1.1"/>
<rect x="492.5" y="663" width="8.5" height="28" fill="#f8f8f8" stroke="#151515" stroke-width="1.0"/>
<circle cx="497" cy="669" r="1.5" fill="#151515"/><circle cx="497" cy="686" r="1.5" fill="#151515"/>
<g font-family="Liberation Sans" font-style="italic" fill="#151515">
<text x="464" y="497.5" font-size="11.5" text-anchor="start" letter-spacing="0.6" stroke="#151515" stroke-width="0.4">22</text>
<text x="509" y="496" font-size="11.5" text-anchor="start" letter-spacing="0.6" stroke="#151515" stroke-width="0.4">5</text>
<text x="556" y="499" font-size="11.5" text-anchor="start" letter-spacing="0.6" stroke="#151515" stroke-width="0.4">4</text>
<text x="415" y="529.8" font-size="11.5" text-anchor="start" letter-spacing="0.6" stroke="#151515" stroke-width="0.4">33</text>
<text x="446" y="525" font-size="11.5" text-anchor="start" letter-spacing="0.6" stroke="#151515" stroke-width="0.4">23</text>
<text x="463" y="528" font-size="11.5" text-anchor="start" letter-spacing="0.6" stroke="#151515" stroke-width="0.4">5</text>
<text x="487" y="523.6" font-size="11.5" text-anchor="start" letter-spacing="0.6" stroke="#151515" stroke-width="0.4">20</text>
<text x="516.5" y="528" font-size="11.5" text-anchor="start" letter-spacing="0.6" stroke="#151515" stroke-width="0.4">1</text>
<text x="535" y="525" font-size="11.5" text-anchor="start" letter-spacing="0.6" stroke="#151515" stroke-width="0.4">7</text>
<text x="559.5" y="528" font-size="11.5" text-anchor="start" letter-spacing="0.6" stroke="#151515" stroke-width="0.4">9</text>
<text x="438" y="539" font-size="11.5" text-anchor="start" letter-spacing="0.6" stroke="#151515" stroke-width="0.4">12</text>
<text x="538" y="539" font-size="11.5" text-anchor="start" letter-spacing="0.6" stroke="#151515" stroke-width="0.4">12</text>
<text x="561" y="543.6" font-size="11.5" text-anchor="start" letter-spacing="0.6" stroke="#151515" stroke-width="0.4">28</text>
<text x="421" y="545" font-size="11.5" text-anchor="start" letter-spacing="0.6" stroke="#151515" stroke-width="0.4">29</text>
<text x="561" y="554" font-size="11.5" text-anchor="start" letter-spacing="0.6" stroke="#151515" stroke-width="0.4">8</text>
<text x="571.7" y="577" font-size="11.5" text-anchor="start" letter-spacing="0.6" stroke="#151515" stroke-width="0.4">29</text>
<text x="571.7" y="586.5" font-size="11.5" text-anchor="start" letter-spacing="0.6" stroke="#151515" stroke-width="0.4">13</text>
<text x="571.7" y="606" font-size="11.5" text-anchor="start" letter-spacing="0.6" stroke="#151515" stroke-width="0.4">6</text>
<text x="570" y="629" font-size="11.5" text-anchor="start" letter-spacing="0.6" stroke="#151515" stroke-width="0.4">10</text>
<text x="573" y="641.7" font-size="11.5" text-anchor="start" letter-spacing="0.6" stroke="#151515" stroke-width="0.4">16</text>
<text x="561" y="652.5" font-size="11.5" text-anchor="start" letter-spacing="0.6" stroke="#151515" stroke-width="0.4">15</text>
<text x="564" y="664.7" font-size="11.5" text-anchor="start" letter-spacing="0.6" stroke="#151515" stroke-width="0.4">27</text>
<text x="561" y="678.5" font-size="11.5" text-anchor="start" letter-spacing="0.6" stroke="#151515" stroke-width="0.4">10</text>
<text x="542.6" y="672.4" font-size="11.5" text-anchor="start" letter-spacing="0.6" stroke="#151515" stroke-width="0.4">2</text>
<text x="545.6" y="687.7" font-size="11.5" text-anchor="start" letter-spacing="0.6" stroke="#151515" stroke-width="0.4">20</text>
<text x="521" y="686" font-size="11.5" text-anchor="start" letter-spacing="0.6" stroke="#151515" stroke-width="0.4">17</text>
<text x="533" y="721.5" font-size="11.5" text-anchor="start" letter-spacing="0.6" stroke="#151515" stroke-width="0.4">3</text>
<text x="570" y="720" font-size="11.5" text-anchor="start" letter-spacing="0.6" stroke="#151515" stroke-width="0.4">1</text>
<text x="498" y="721.5" font-size="11.5" text-anchor="start" letter-spacing="0.6" stroke="#151515" stroke-width="0.4">29</text>
<text x="502.7" y="690.8" font-size="11.5" text-anchor="start" letter-spacing="0.6" stroke="#151515" stroke-width="0.4">5</text>
<text x="406" y="591" font-size="11.5" text-anchor="start" letter-spacing="0.6" stroke="#151515" stroke-width="0.4">14</text>
<text x="406" y="618.7" font-size="11.5" text-anchor="start" letter-spacing="0.6" stroke="#151515" stroke-width="0.4">11</text>
<text x="407.6" y="637" font-size="11.5" text-anchor="start" letter-spacing="0.6" stroke="#151515" stroke-width="0.4">16</text>
<text x="413.7" y="640" font-size="11.5" text-anchor="start" letter-spacing="0.6" stroke="#151515" stroke-width="0.4">8</text>
</g>
<path d="M430.00,520.00 L445.00,528.00" fill="none" stroke="#151515" stroke-width="0.8" />
<path d="M452.00,527.00 L452.00,538.00" fill="none" stroke="#151515" stroke-width="0.8" />
<path d="M540.00,528.00 L528.00,540.00" fill="none" stroke="#151515" stroke-width="0.8" />
<path d="M566.00,528.00 L560.00,548.00" fill="none" stroke="#151515" stroke-width="0.8" />
<path d="M575.00,543.00 L568.00,556.00" fill="none" stroke="#151515" stroke-width="0.8" />
<path d="M572.00,568.00 L562.00,562.00" fill="none" stroke="#151515" stroke-width="0.8" />
<path d="M565.00,632.00 L555.00,628.00" fill="none" stroke="#151515" stroke-width="0.8" />
<path d="M560.00,645.00 L548.00,640.00" fill="none" stroke="#151515" stroke-width="0.8" />
<path d="M562.00,658.00 L545.00,653.00" fill="none" stroke="#151515" stroke-width="0.8" />
<path d="M558.00,670.00 L540.00,660.00" fill="none" stroke="#151515" stroke-width="0.8" />
<path d="M540.00,712.00 L545.00,690.00" fill="none" stroke="#151515" stroke-width="0.8" />
<path d="M575.00,711.00 L580.00,704.00" fill="none" stroke="#151515" stroke-width="0.8" />
<path d="M505.00,710.00 L490.00,698.00" fill="none" stroke="#151515" stroke-width="0.8" />
<path d="M447.00,545.00 L430.00,555.00" fill="none" stroke="#151515" stroke-width="0.8" />
<path d="M555.00,678.00 L535.00,665.00" fill="none" stroke="#151515" stroke-width="0.8" />
<g font-family="Liberation Sans" font-style="italic" fill="#151515">
<text x="272" y="573.7" font-size="11.5" text-anchor="start" letter-spacing="0.6" stroke="#151515" stroke-width="0.4">23</text>
<text x="298" y="574.6" font-size="11.5" text-anchor="start" letter-spacing="0.6" stroke="#151515" stroke-width="0.4">22</text>
<text x="313" y="578" font-size="11.5" text-anchor="start" letter-spacing="0.6" stroke="#151515" stroke-width="0.4">7</text>
<text x="329" y="582" font-size="11.5" text-anchor="start" letter-spacing="0.6" stroke="#151515" stroke-width="0.4">18</text>
<text x="357" y="582" font-size="11.5" text-anchor="start" letter-spacing="0.6" stroke="#151515" stroke-width="0.4">3</text>
<text x="372" y="564" font-size="11.5" text-anchor="start" letter-spacing="0.6" stroke="#151515" stroke-width="0.4">4</text>
<text x="260" y="631.5" font-size="11.5" text-anchor="start" letter-spacing="0.6" stroke="#151515" stroke-width="0.4">23</text>
<text x="283" y="627" font-size="11.5" text-anchor="start" letter-spacing="0.6" stroke="#151515" stroke-width="0.4">22</text>
<text x="307.6" y="633.4" font-size="11.5" text-anchor="start" letter-spacing="0.6" stroke="#151515" stroke-width="0.4">19</text>
<text x="331" y="637" font-size="11.5" text-anchor="start" letter-spacing="0.6" stroke="#151515" stroke-width="0.4">2</text>
<text x="338" y="627" font-size="11.5" text-anchor="start" letter-spacing="0.6" stroke="#151515" stroke-width="0.4">27</text>
<text x="367" y="628.7" font-size="11.5" text-anchor="start" letter-spacing="0.6" stroke="#151515" stroke-width="0.4">1</text>
<text x="283" y="644.6" font-size="11.5" text-anchor="start" letter-spacing="0.6" stroke="#151515" stroke-width="0.4">17</text>
<text x="158.4" y="631" font-size="11.5" text-anchor="start" letter-spacing="0.6" stroke="#151515" stroke-width="0.4">16</text>
<text x="232" y="631" font-size="11.5" text-anchor="start" letter-spacing="0.6" stroke="#151515" stroke-width="0.4">6</text>
<text x="276" y="663" font-size="11.5" text-anchor="start" letter-spacing="0.6" stroke="#151515" stroke-width="0.4">8</text>
<text x="391" y="664.5" font-size="11.5" text-anchor="start" letter-spacing="0.6" stroke="#151515" stroke-width="0.4">7</text>
<text x="454" y="666" font-size="11.5" text-anchor="start" letter-spacing="0.6" stroke="#151515" stroke-width="0.4">9</text>
<text x="280.7" y="690.6" font-size="11.5" text-anchor="start" letter-spacing="0.6" stroke="#151515" stroke-width="0.4">1</text>
<text x="300.6" y="696.7" font-size="11.5" text-anchor="start" letter-spacing="0.6" stroke="#151515" stroke-width="0.4">28</text>
<text x="323.6" y="696.7" font-size="11.5" text-anchor="start" letter-spacing="0.6" stroke="#151515" stroke-width="0.4">20</text>
<text x="377" y="700" font-size="11.5" text-anchor="start" letter-spacing="0.6" stroke="#151515" stroke-width="0.4">16</text>
<text x="389.6" y="701" font-size="11.5" text-anchor="start" letter-spacing="0.6" stroke="#151515" stroke-width="0.4">17</text>
<text x="405" y="701" font-size="11.5" text-anchor="start" letter-spacing="0.6" stroke="#151515" stroke-width="0.4">18</text>
<text x="440" y="709" font-size="11.5" text-anchor="start" letter-spacing="0.6" stroke="#151515" stroke-width="0.4">19</text>
<text x="454" y="693.7" font-size="11.5" text-anchor="start" letter-spacing="0.6" stroke="#151515" stroke-width="0.4">20</text>
<text x="468" y="695" font-size="11.5" text-anchor="start" letter-spacing="0.6" stroke="#151515" stroke-width="0.4">2</text>
<text x="458.6" y="712" font-size="11.5" text-anchor="start" letter-spacing="0.6" stroke="#151515" stroke-width="0.4">28</text>
</g>
<path d="M280.00,574.00 L278.00,584.00" fill="none" stroke="#151515" stroke-width="0.8" />
<path d="M305.00,575.00 L303.00,584.00" fill="none" stroke="#151515" stroke-width="0.8" />
<path d="M318.00,578.00 L314.00,586.00" fill="none" stroke="#151515" stroke-width="0.8" />
<path d="M335.00,582.00 L330.00,587.00" fill="none" stroke="#151515" stroke-width="0.8" />
<path d="M362.00,582.00 L360.00,587.00" fill="none" stroke="#151515" stroke-width="0.8" />
<path d="M383.00,562.00 L395.00,560.00" fill="none" stroke="#151515" stroke-width="0.8" />
<path d="M268.00,622.00 L268.00,611.00" fill="none" stroke="#151515" stroke-width="0.8" />
<path d="M292.00,618.00 L296.00,611.00" fill="none" stroke="#151515" stroke-width="0.8" />
<path d="M315.00,625.00 L320.00,611.00" fill="none" stroke="#151515" stroke-width="0.8" />
<path d="M333.00,628.00 L333.00,611.00" fill="none" stroke="#151515" stroke-width="0.8" />
<path d="M345.00,618.00 L340.00,611.00" fill="none" stroke="#151515" stroke-width="0.8" />
<path d="M372.00,620.00 L372.00,611.00" fill="none" stroke="#151515" stroke-width="0.8" />
<path d="M290.00,634.00 L298.00,611.00" fill="none" stroke="#151515" stroke-width="0.8" />
<path d="M162.00,622.00 L168.00,611.00" fill="none" stroke="#151515" stroke-width="0.8" />
<path d="M238.00,620.00 L238.00,611.00" fill="none" stroke="#151515" stroke-width="0.8" />
<path d="M280.00,657.00 L285.00,667.00" fill="none" stroke="#151515" stroke-width="0.8" />
<path d="M396.00,658.00 L393.00,667.00" fill="none" stroke="#151515" stroke-width="0.8" />
<path d="M458.00,657.00 L455.00,667.00" fill="none" stroke="#151515" stroke-width="0.8" />
<path d="M285.00,683.50 L285.00,686.00" fill="none" stroke="#151515" stroke-width="0.8" />
<path d="M305.00,686.00 L306.00,683.50" fill="none" stroke="#151515" stroke-width="0.8" />
<path d="M330.00,686.00 L325.00,683.50" fill="none" stroke="#151515" stroke-width="0.8" />
<path d="M382.00,688.00 L378.00,683.50" fill="none" stroke="#151515" stroke-width="0.8" />
<path d="M394.00,690.00 L400.00,683.50" fill="none" stroke="#151515" stroke-width="0.8" />
<path d="M410.00,690.00 L420.00,683.50" fill="none" stroke="#151515" stroke-width="0.8" />
<path d="M445.00,700.00 L440.00,683.50" fill="none" stroke="#151515" stroke-width="0.8" />
<path d="M458.00,688.00 L452.00,683.50" fill="none" stroke="#151515" stroke-width="0.8" />
<path d="M470.00,688.00 L470.00,683.50" fill="none" stroke="#151515" stroke-width="0.8" />
<circle cx="263.5" cy="695.3" r="3.6" fill="#f8f8f8" stroke="#151515" stroke-width="2.8"/>
<path d="M252.00,682.00 L261.00,692.00" fill="none" stroke="#151515" stroke-width="0.8" />
<g font-family="Liberation Sans" font-style="italic" fill="#151515">
<text x="214.5" y="699" font-size="11.5" text-anchor="start" letter-spacing="0.6" stroke="#151515" stroke-width="0.4">31</text>
<text x="237" y="699" font-size="11.5" text-anchor="start" letter-spacing="0.6" stroke="#151515" stroke-width="0.4">30</text>
<text x="199" y="732" font-size="11.5" text-anchor="start" letter-spacing="0.6" stroke="#151515" stroke-width="0.4">32</text>
<text x="232" y="728.5" font-size="11.5" text-anchor="start" letter-spacing="0.6" stroke="#151515" stroke-width="0.4">5</text>
<text x="259.6" y="723.3" font-size="11.5" text-anchor="start" letter-spacing="0.6" stroke="#151515" stroke-width="0.4">20</text>
<text x="287" y="730" font-size="11.5" text-anchor="start" letter-spacing="0.6" stroke="#151515" stroke-width="0.4">1</text>
<text x="311.6" y="728.5" font-size="11.5" text-anchor="start" letter-spacing="0.6" stroke="#151515" stroke-width="0.4">33</text>
<text x="202" y="742.4" font-size="11.5" text-anchor="start" letter-spacing="0.6" stroke="#151515" stroke-width="0.4">12</text>
<text x="311.6" y="740.7" font-size="11.5" text-anchor="start" letter-spacing="0.6" stroke="#151515" stroke-width="0.4">18</text>
<text x="335.8" y="740.7" font-size="11.5" text-anchor="start" letter-spacing="0.6" stroke="#151515" stroke-width="0.4">11</text>
<text x="329" y="758" font-size="11.5" text-anchor="start" letter-spacing="0.6" stroke="#151515" stroke-width="0.4">4</text>
<text x="342.8" y="754.5" font-size="11.5" text-anchor="start" letter-spacing="0.6" stroke="#151515" stroke-width="0.4">6</text>
<text x="375.7" y="754.5" font-size="11.5" text-anchor="start" letter-spacing="0.6" stroke="#151515" stroke-width="0.4">12</text>
<text x="186.8" y="765" font-size="11.5" text-anchor="start" letter-spacing="0.6" stroke="#151515" stroke-width="0.4">9</text>
<text x="178" y="789" font-size="11.5" text-anchor="start" letter-spacing="0.6" stroke="#151515" stroke-width="0.4">14</text>
<text x="344.5" y="782" font-size="11.5" text-anchor="start" letter-spacing="0.6" stroke="#151515" stroke-width="0.4">13</text>
<text x="297.7" y="798" font-size="11.5" text-anchor="start" letter-spacing="0.6" stroke="#151515" stroke-width="0.4">8</text>
<text x="342.8" y="806.5" font-size="11.5" text-anchor="start" letter-spacing="0.6" stroke="#151515" stroke-width="0.4">6</text>
<text x="178" y="815" font-size="11.5" text-anchor="start" letter-spacing="0.6" stroke="#151515" stroke-width="0.4">11</text>
<text x="370.5" y="818" font-size="11.5" text-anchor="start" letter-spacing="0.6" stroke="#151515" stroke-width="0.4">7</text>
<text x="341" y="832.5" font-size="11.5" text-anchor="start" letter-spacing="0.6" stroke="#151515" stroke-width="0.4">10</text>
<text x="180" y="843" font-size="11.5" text-anchor="start" letter-spacing="0.6" stroke="#151515" stroke-width="0.4">8</text>
<text x="341" y="853.3" font-size="11.5" text-anchor="start" letter-spacing="0.6" stroke="#151515" stroke-width="0.4">16</text>
<text x="379" y="855" font-size="11.5" text-anchor="start" letter-spacing="0.6" stroke="#151515" stroke-width="0.4">4</text>
<text x="192" y="865.4" font-size="11.5" text-anchor="start" letter-spacing="0.6" stroke="#151515" stroke-width="0.4">16</text>
<text x="334" y="874" font-size="11.5" text-anchor="start" letter-spacing="0.6" stroke="#151515" stroke-width="0.4">9</text>
<text x="311.6" y="874" font-size="11.5" text-anchor="start" letter-spacing="0.6" stroke="#151515" stroke-width="0.4">8</text>
<text x="214.5" y="884.5" font-size="11.5" text-anchor="start" letter-spacing="0.6" stroke="#151515" stroke-width="0.4">7</text>
<text x="294" y="886.2" font-size="11.5" text-anchor="start" letter-spacing="0.6" stroke="#151515" stroke-width="0.4">17</text>
<text x="316.8" y="889.7" font-size="11.5" text-anchor="start" letter-spacing="0.6" stroke="#151515" stroke-width="0.4">10</text>
<text x="379" y="881" font-size="11.5" text-anchor="start" letter-spacing="0.6" stroke="#151515" stroke-width="0.4">3</text>
<text x="238.8" y="893" font-size="11.5" text-anchor="start" letter-spacing="0.6" stroke="#151515" stroke-width="0.4">19</text>
<text x="268" y="893" font-size="11.5" text-anchor="start" letter-spacing="0.6" stroke="#151515" stroke-width="0.4">3</text>
<text x="379" y="905.3" font-size="11.5" text-anchor="start" letter-spacing="0.6" stroke="#151515" stroke-width="0.4">1</text>
<text x="199" y="921" font-size="11.5" text-anchor="start" letter-spacing="0.6" stroke="#151515" stroke-width="0.4">4</text>
<text x="369.5" y="789" font-size="11.5" text-anchor="start" letter-spacing="0.6" stroke="#151515" stroke-width="0.4">14</text>
<text x="369.5" y="806" font-size="11.5" text-anchor="start" letter-spacing="0.6" stroke="#151515" stroke-width="0.4">14</text>
<text x="248" y="683" font-size="11.5" text-anchor="start" letter-spacing="0.6" stroke="#151515" stroke-width="0.4">5</text>
</g>
<path d="M222.00,700.00 L232.00,750.00" fill="none" stroke="#151515" stroke-width="0.8" />
<path d="M244.00,700.00 L247.00,730.00" fill="none" stroke="#151515" stroke-width="0.8" />
<path d="M210.00,733.00 L215.00,740.00" fill="none" stroke="#151515" stroke-width="0.8" />
<path d="M318.00,742.00 L320.00,748.00" fill="none" stroke="#151515" stroke-width="0.8" />
<path d="M340.00,742.00 L325.00,760.00" fill="none" stroke="#151515" stroke-width="0.8" />
<path d="M348.00,755.00 L330.00,770.00" fill="none" stroke="#151515" stroke-width="0.8" />
<path d="M376.00,750.00 L335.00,785.00" fill="none" stroke="#151515" stroke-width="0.8" />
<path d="M375.00,785.00 L345.00,795.00" fill="none" stroke="#151515" stroke-width="0.8" />
<path d="M375.00,800.00 L345.00,808.00" fill="none" stroke="#151515" stroke-width="0.8" />
<path d="M374.00,812.00 L340.00,820.00" fill="none" stroke="#151515" stroke-width="0.8" />
<path d="M377.00,850.00 L357.00,850.00" fill="none" stroke="#151515" stroke-width="0.8" />
<path d="M377.00,876.00 L357.00,876.00" fill="none" stroke="#151515" stroke-width="0.8" />
<path d="M377.00,900.00 L362.00,900.00" fill="none" stroke="#151515" stroke-width="0.8" />
<path d="M206.00,912.00 L212.00,901.00" fill="none" stroke="#151515" stroke-width="0.8" />
<path d="M345.00,870.00 L320.00,850.00" fill="none" stroke="#151515" stroke-width="0.8" />
<path d="M320.00,870.00 L300.00,855.00" fill="none" stroke="#151515" stroke-width="0.8" />
<path d="M381,761.5 L543.5,761.5 L543.5,819.8 L381.4,819.8 L381.4,814 Q387,810 387,806 Q384,797 382.5,791 Q379,782 381.5,776 Q382,768 381,761.5Z" fill="url(#hatchF)" stroke="#151515" stroke-width="1.4"/>
<path d="M381.5,814.5 L538,814.5 L538,763" fill="none" stroke="#151515" stroke-width="1.1"/>
<path d="M381.5,819 L543,819 L543,762 L538.6,762 L538.6,815.2 L382,815.2Z" fill="#f8f8f8" stroke="none"/>
<path d="M381.50,817.20 L541.00,817.20 L541.00,763.00" fill="none" stroke="#151515" stroke-width="0.7" />
<path d="M381.40,819.80 L543.50,819.80 L543.50,761.50" fill="none" stroke="#151515" stroke-width="1.4" />
<path d="M527.00,812.00 L530.00,790.00 L533.00,812.00" fill="none" stroke="#151515" stroke-width="1.0" />
<path d="M422.8,784.3 L422.8,760 Q427,752.5 431.2,760 L431.2,784.3" fill="#f8f8f8" stroke="#151515" stroke-width="1.6"/>
<path d="M425.7,782 L425.7,761 Q427,758.5 428.3,761 L428.3,782" fill="none" stroke="#151515" stroke-width="1.3"/>
<path d="M488.0,784.3 L488.0,760 Q492.2,752.5 496.4,760 L496.4,784.3" fill="#f8f8f8" stroke="#151515" stroke-width="1.6"/>
<path d="M490.9,782 L490.9,761 Q492.2,758.5 493.5,761 L493.5,782" fill="none" stroke="#151515" stroke-width="1.3"/>
<g font-family="Liberation Sans" font-style="italic" fill="#151515">
<text x="406.8" y="753.7" font-size="11.5" text-anchor="start" letter-spacing="0.6" stroke="#151515" stroke-width="0.4">26</text>
<text x="441.5" y="752" font-size="11.5" text-anchor="start" letter-spacing="0.6" stroke="#151515" stroke-width="0.4">25</text>
<text x="448.4" y="760.7" font-size="11.5" text-anchor="start" letter-spacing="0.6" stroke="#151515" stroke-width="0.4">28</text>
<text x="465.7" y="741.6" font-size="11.5" text-anchor="start" letter-spacing="0.6" stroke="#151515" stroke-width="0.4">26</text>
<text x="474.4" y="752" font-size="11.5" text-anchor="start" letter-spacing="0.6" stroke="#151515" stroke-width="0.4">25</text>
<text x="509" y="757" font-size="11.5" text-anchor="start" letter-spacing="0.6" stroke="#151515" stroke-width="0.4">22</text>
<text x="549" y="788.4" font-size="11.5" text-anchor="start" letter-spacing="0.6" stroke="#151515" stroke-width="0.4">18</text>
<text x="549" y="811" font-size="11.5" text-anchor="start" letter-spacing="0.6" stroke="#151515" stroke-width="0.4">20</text>
<text x="391" y="835" font-size="11.5" text-anchor="start" letter-spacing="0.6" stroke="#151515" stroke-width="0.4">1</text>
<text x="422.4" y="840.4" font-size="11.5" text-anchor="start" letter-spacing="0.6" stroke="#151515" stroke-width="0.4">23</text>
<text x="460.5" y="831.7" font-size="11.5" text-anchor="start" letter-spacing="0.6" stroke="#151515" stroke-width="0.4">22</text>
<text x="500.4" y="833.4" font-size="11.5" text-anchor="start" letter-spacing="0.6" stroke="#151515" stroke-width="0.4">17</text>
<text x="517.7" y="830" font-size="11.5" text-anchor="start" letter-spacing="0.6" stroke="#151515" stroke-width="0.4">21</text>
</g>
<path d="M418.00,752.00 L424.00,756.00" fill="none" stroke="#151515" stroke-width="0.8" />
<path d="M452.00,750.00 L430.00,756.00" fill="none" stroke="#151515" stroke-width="0.8" />
<path d="M483.00,741.00 L488.00,754.00" fill="none" stroke="#151515" stroke-width="0.8" />
<path d="M488.00,752.00 L494.00,756.00" fill="none" stroke="#151515" stroke-width="0.8" />
<path d="M510.00,755.00 L498.00,757.00" fill="none" stroke="#151515" stroke-width="0.8" />
<path d="M548.00,782.00 L530.00,800.00" fill="none" stroke="#151515" stroke-width="0.8" />
<path d="M548.00,808.00 L532.00,806.00" fill="none" stroke="#151515" stroke-width="0.8" />
<path d="M397.00,822.00 L400.00,819.60" fill="none" stroke="#151515" stroke-width="0.8" />
<path d="M428.00,832.00 L425.00,819.60" fill="none" stroke="#151515" stroke-width="0.8" />
<path d="M470.00,824.00 L480.00,819.60" fill="none" stroke="#151515" stroke-width="0.8" />
<path d="M510.00,826.00 L520.00,819.60" fill="none" stroke="#151515" stroke-width="0.8" />
<path d="M522.00,822.00 L528.00,815.00" fill="none" stroke="#151515" stroke-width="0.8" />
<text x="543.7" y="826.5" font-family="Liberation Serif" font-weight="bold" font-style="italic" font-size="10" fill="#1a1a1a" textLength="50" lengthAdjust="spacingAndGlyphs">Inventor</text>
<g transform="translate(458.5,851) skewX(-12)"><text x="0" y="0" font-family="Liberation Serif" font-style="italic" font-size="20" fill="#1a1a1a" stroke="#1a1a1a" stroke-width="0.6" textLength="127" lengthAdjust="spacingAndGlyphs">C. J. Widmeier</text></g>
<text x="434.5" y="891" font-family="Liberation Serif" font-style="italic" font-weight="bold" font-size="14" fill="#1a1a1a" textLength="16" lengthAdjust="spacingAndGlyphs">By</text>
<g fill="none" stroke="#151515" stroke-linecap="round" stroke-linejoin="round" stroke-width="1.8"><path d="M464,894 L484,871.5"/><path d="M474,878 Q489,871 488,878 Q485,884 476,884 Q485,887 488,893"/><path d="M469,892 L480,881"/><path d="M483,894 Q492,882 499,873.5 Q499,884 497,892 M486,886 L501,883.5"/><path d="M497,892 L513,871 M509,890 L521,876"/><path d="M515,893 L545,867.5"/></g>
<circle cx="475.5" cy="895" r="1.2" fill="#151515"/><circle cx="491" cy="898" r="1.2" fill="#151515"/>
<g transform="translate(521,893.5) skewX(-18)"><text x="0" y="0" font-family="Liberation Serif" font-style="italic" font-size="23" fill="#1a1a1a" stroke="#1a1a1a" stroke-width="0.4" textLength="74" lengthAdjust="spacingAndGlyphs">oswell</text></g>
<text x="557.6" y="913.6" font-family="Liberation Serif" font-weight="bold" font-size="10.5" fill="#1a1a1a" textLength="36.4" lengthAdjust="spacingAndGlyphs">Attorney</text>
</svg>
</body></html>
